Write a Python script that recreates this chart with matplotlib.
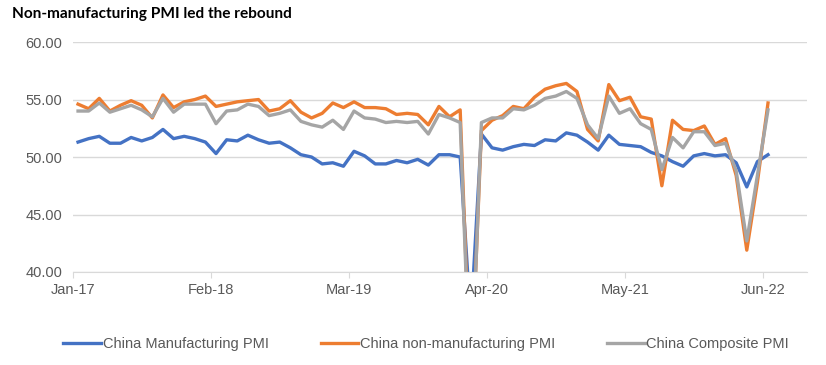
import numpy as np
import matplotlib
matplotlib.use("Agg")
import matplotlib.pyplot as plt

# monthly PMI readings, Jan 2017 .. Jun 2022
manufacturing = [
    51.3, 51.6, 51.8, 51.2, 51.2, 51.7, 51.4, 51.7, 52.4, 51.6, 51.8, 51.6,
    51.3, 50.3, 51.5, 51.4, 51.9, 51.5, 51.2, 51.3, 50.8, 50.2, 50.0, 49.4,
    49.5, 49.2, 50.5, 50.1, 49.4, 49.4, 49.7, 49.5, 49.8, 49.3, 50.2, 50.2,
    50.0, 35.7, 52.0, 50.8, 50.6, 50.9, 51.1, 51.0, 51.5, 51.4, 52.1, 51.9,
    51.3, 50.6, 51.9, 51.1, 51.0, 50.9, 50.4, 50.1, 49.6, 49.2, 50.1, 50.3,
    50.1, 50.2, 49.5, 47.4, 49.6, 50.2,
]
non_manufacturing = [
    54.6, 54.2, 55.1, 54.0, 54.5, 54.9, 54.5, 53.4, 55.4, 54.3, 54.8, 55.0,
    55.3, 54.4, 54.6, 54.8, 54.9, 55.0, 54.0, 54.2, 54.9, 53.9, 53.4, 53.8,
    54.7, 54.3, 54.8, 54.3, 54.3, 54.2, 53.7, 53.8, 53.7, 52.8, 54.4, 53.5,
    54.1, 29.6, 52.3, 53.2, 53.6, 54.4, 54.2, 55.2, 55.9, 56.2, 56.4, 55.7,
    52.4, 51.4, 56.3, 54.9, 55.2, 53.5, 53.3, 47.5, 53.2, 52.4, 52.3, 52.7,
    51.1, 51.6, 48.4, 41.9, 47.8, 54.7,
]
composite = [
    54.0, 54.0, 54.7, 53.9, 54.2, 54.5, 54.1, 53.5, 55.1, 53.9, 54.6, 54.6,
    54.6, 52.9, 54.0, 54.1, 54.6, 54.4, 53.6, 53.8, 54.1, 53.1, 52.8, 52.6,
    53.2, 52.4, 54.0, 53.4, 53.3, 53.0, 53.1, 53.0, 53.1, 52.0, 53.7, 53.4,
    53.0, 28.9, 53.0, 53.4, 53.4, 54.2, 54.1, 54.5, 55.1, 55.3, 55.7, 55.1,
    52.8, 51.6, 55.3, 53.8, 54.2, 52.9, 52.4, 48.9, 51.7, 50.8, 52.2, 52.2,
    51.0, 51.2, 48.8, 42.7, 48.4, 54.1,
]
tick_labels = ["Jan-17", "Feb-18", "Mar-19", "Apr-20", "May-21", "Jun-22"]
series_names = ["China Manufacturing PMI", "China non-manufacturing PMI", "China Composite PMI"]
colors = ["#4472C4", "#ED7D31", "#A5A5A5"]

months = np.arange(len(manufacturing))
text_grey = "#595959"

fig = plt.figure(figsize=(8.26, 3.65), dpi=100)
ax = fig.add_axes([0.0887, 0.2548, 0.888, 0.630])

for vals, name, c in zip([manufacturing, non_manufacturing, composite], series_names, colors):
    ax.plot(months, vals, color=c, lw=2.4, label=name, solid_joinstyle="round")

ax.set_ylim(40, 60)
ax.set_yticks([40, 45, 50, 55, 60])
ax.set_yticklabels([f"{v:.2f}" for v in [40, 45, 50, 55, 60]])
# date axis: ticks sit at the start of each month, points mid-month
ax.set_xlim(-0.45, 68.65)
ax.set_xticks(months[::13] - 0.45)
ax.set_xticklabels(tick_labels)

ax.grid(axis="y", color="#D9D9D9", lw=1)
ax.set_axisbelow(True)
for side in ["top", "right", "left"]:
    ax.spines[side].set_visible(False)
ax.spines["bottom"].set_color("#D9D9D9")
ax.tick_params(axis="y", length=0, pad=8, labelsize=10.5, labelcolor=text_grey)
ax.tick_params(axis="x", length=4, color="#D9D9D9", pad=4, labelsize=10.5, labelcolor=text_grey)
for lbl in ax.get_xticklabels() + ax.get_yticklabels():
    lbl.set_family("Liberation Sans")

fig.text(0.0145, 0.963, "Non-manufacturing PMI led the rebound", fontsize=11.1,
         fontweight="bold", family="Lato", va="center", ha="left")

leg = fig.legend(loc="center", bbox_to_anchor=(0.516, 0.057), ncol=3, frameon=False,
                 handlelength=2.6, handletextpad=0.1, columnspacing=3.55,
                 prop={"family": "Liberation Sans", "size": 10.5})
for t in leg.get_texts():
    t.set_color(text_grey)

fig.savefig("out.png", dpi=100)
